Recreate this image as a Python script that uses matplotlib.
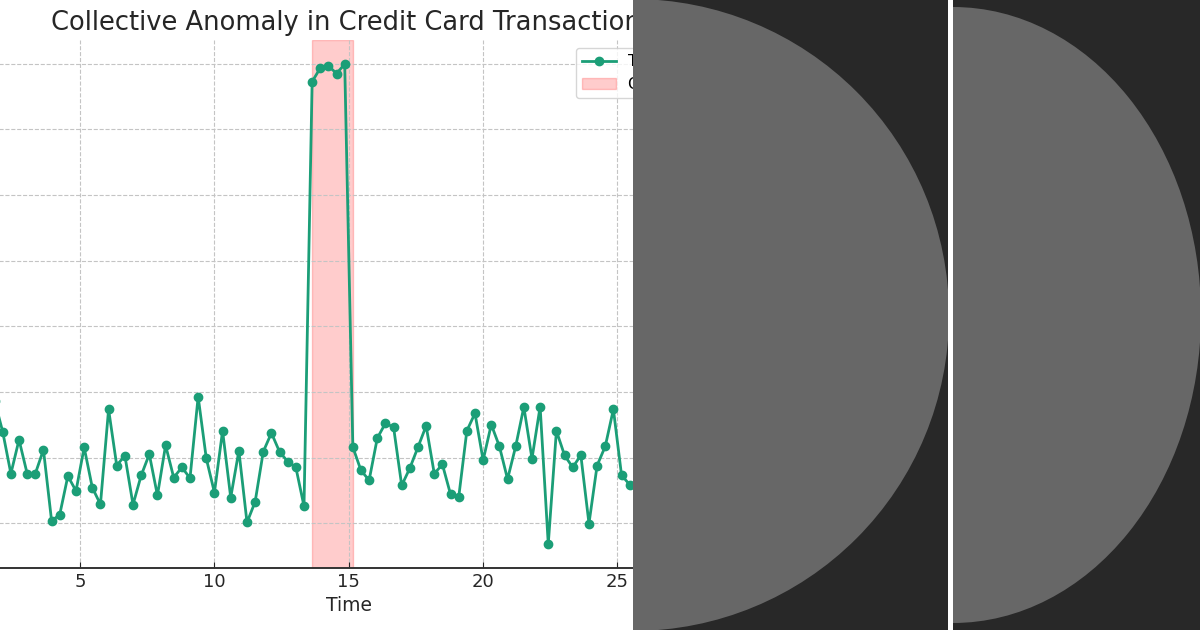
import matplotlib
matplotlib.use("Agg")
import matplotlib.pyplot as plt
import numpy as np
from matplotlib.patches import Rectangle, Ellipse
from matplotlib.ticker import MultipleLocator

# time axis of the full series (0..30, 100 samples); only indices 6..85 are in view
time_full = np.linspace(0, 30, 100)
first_idx = 6
amounts = [
    71.7, 59.8, 43.9, 56.8, 43.9, 43.9, 53.0, 25.9, 28.3, 43.0,
    37.3, 53.9, 38.6, 32.2, 68.4, 47.0, 50.8, 32.1, 43.2, 51.3,
    35.6, 54.7, 42.4, 46.3, 42.2, 73.2, 49.7, 36.7, 60.2, 34.8,
    52.6, 25.3, 33.2, 52.3, 59.4, 52.2, 48.5, 46.3, 31.5,
    193.2, 198.4, 199.2, 196.3, 199.9,  # collective anomaly
    54.0, 45.1, 41.4, 57.4, 63.1, 61.6, 39.4, 46.0, 54.0, 62.1,
    43.9, 47.4, 36.0, 34.9, 60.2, 66.9, 49.0, 62.6, 54.3, 41.8,
    54.3, 69.3, 49.6, 69.4, 17.1, 60.2, 50.9, 46.3, 50.9, 24.9,
    47.0, 54.3, 68.4, 43.3, 39.7, 38.0,
]
x_ticks = [5, 10, 15, 20, 25, 30]
time = time_full[first_idx:first_idx + len(amounts)]
anomaly_start, anomaly_end = 45, 50

plt.rcParams['font.family'] = 'DejaVu Sans'
fig = plt.figure(figsize=(12, 6.3), dpi=100)
fig.patch.set_facecolor('white')

# the chart is cropped on the left, so the axes start outside the figure
ax = fig.add_axes([-0.0788, 0.0984, 0.7389, 0.838])
ax.plot(time, amounts, color='#1b9e77', marker='o', markersize=6, linewidth=2,
        label='Transaction Amount')
ax.axvspan(time_full[anomaly_start], time_full[anomaly_end], color='red', alpha=0.2,
           label='Collective Anomaly')

ax.set_xlim(-1.5, 31.5)
ax.set_xticks(x_ticks)
ax.yaxis.set_major_locator(MultipleLocator(25))
ax.set_title('Collective Anomaly in Credit Card Transactions', fontsize=18.5,
             color='#262626', pad=7, x=0.5045)
ax.set_xlabel('Time', fontsize=13.5, color='#262626')
ax.grid(True, linestyle='--', color='#c4c4c4', linewidth=0.8)
ax.tick_params(direction='in', length=4, labelsize=13, colors='#262626')
# y labels fall outside the crop
ax.tick_params(axis='y', left=False, labelleft=False)
for side in ['top', 'right', 'left']:
    ax.spines[side].set_visible(False)
ax.spines['bottom'].set_color('#333333')
ax.spines['bottom'].set_linewidth(1.4)
ax.legend(loc='upper left', bbox_to_anchor=(0.7563, 0.985), borderaxespad=0,
          fontsize=11, handlelength=2.2)

# dark panels with grey half discs on the right
W, H = 1200, 630
panels = [(633, 948, 633, 632, 632), (953, 1200, 953, 496, 616)]
fig.add_artist(Rectangle((633 / W, 0), 1 - 633 / W, 1, transform=fig.transFigure,
                         facecolor='white', edgecolor='none', zorder=5))
for x0, x1, cx, ew, eh in panels:
    rect = Rectangle((x0 / W, 0), (x1 - x0) / W, 1, transform=fig.transFigure,
                     facecolor='#282828', edgecolor='none', zorder=6)
    fig.add_artist(rect)
    disc = Ellipse((cx / W, 0.5), ew / W, eh / H, transform=fig.transFigure,
                   facecolor='#676767', edgecolor='none', zorder=7)
    fig.add_artist(disc)
    disc.set_clip_path(rect)

fig.savefig('out.png', dpi=100)
